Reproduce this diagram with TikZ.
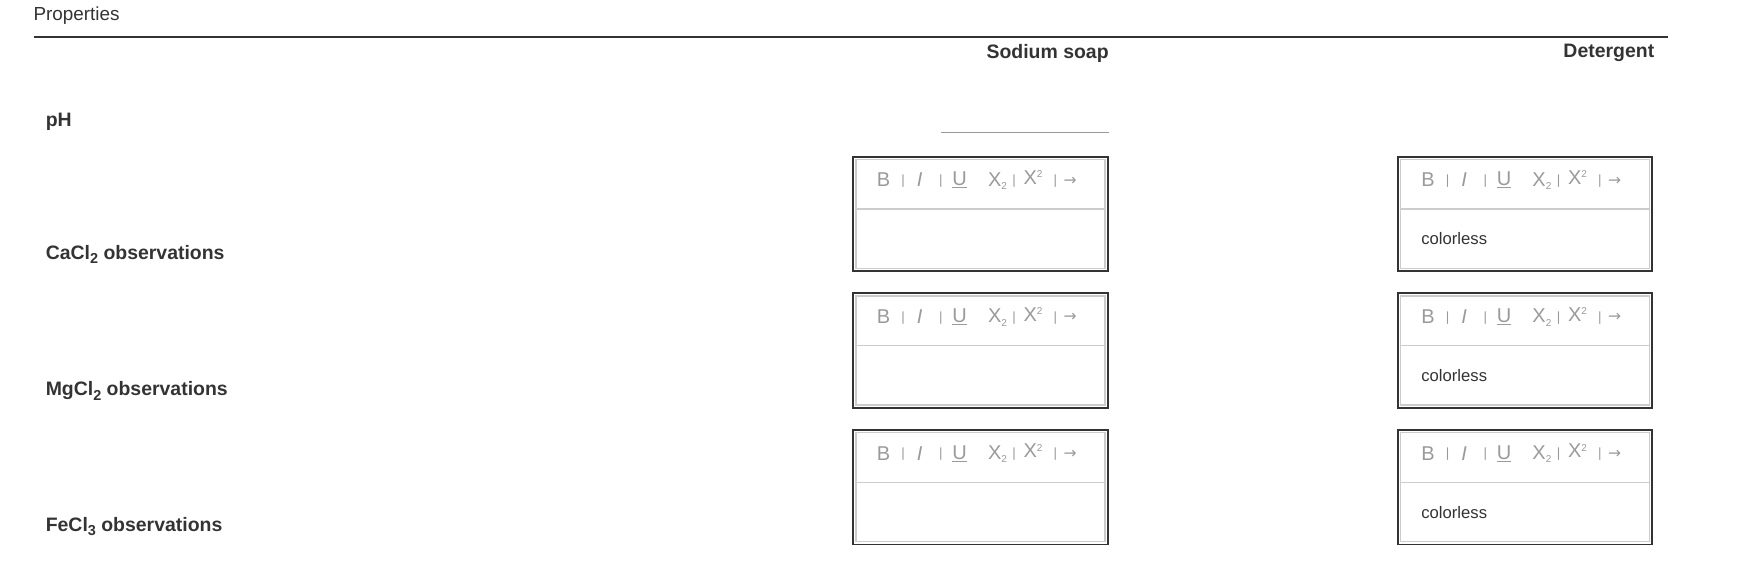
\documentclass[tikz,border=0pt]{standalone}
\usepackage{fontspec}
\setmainfont{Liberation Sans}
\newfontfamily\djvfont{DejaVu Sans}
\definecolor{dk}{HTML}{333333}
\definecolor{tb}{HTML}{9A9A9A}
\definecolor{lg}{HTML}{CCCCCC}
\begin{document}
\begin{tikzpicture}[x=1pt,y=-1pt,
  lbl/.style={font=\fontsize{17.5}{20}\selectfont\bfseries,text=dk,inner sep=0pt},
  tbt/.style={font=\fontsize{18}{20}\selectfont,text=tb,inner sep=0pt,anchor=west}]
\useasboundingbox (0,0) rectangle (1566,522);
\node[font=\fontsize{17}{20}\selectfont,text=dk,anchor=west,inner sep=0pt] (prop) at (30,14) {Properties};
\draw[dk,line width=1.6pt] (31,33) coordinate (l1) -- (1501,33) coordinate (l2);
\node[lbl,anchor=east] (ss) at (998,48) {Sodium soap};
\node[lbl,anchor=east] (dt) at (1489,48) {Detergent};
\node[lbl,anchor=west] (ph) at (41,110) {pH};
\draw[tb,line width=1pt] (847,119) coordinate (p1) -- (998,119) coordinate (p2);
\node[lbl,anchor=west] (r1) at (41,229) {CaCl\raisebox{-4pt}{\fontsize{13}{14}\selectfont 2} observations};
\node[lbl,anchor=west] (r2) at (41,352) {MgCl\raisebox{-4pt}{\fontsize{13}{14}\selectfont 2} observations};
\node[lbl,anchor=west] (r3) at (41,474) {FeCl\raisebox{-4pt}{\fontsize{13}{14}\selectfont 3} observations};
\foreach \x/\c in {768/a,1258/b}{
 \foreach \y/\r in {141/1,264/2,387/3}{
  \draw[dk,line width=1.6pt] (\x,\y) rectangle (\x+229,\y+103);
  \draw[lg,line width=1.2pt] (\x+2.5,\y+2.5) rectangle (\x+226.5,\y+100.5);
  \draw[lg,line width=1.2pt] (\x+2.5,\y+47) -- (\x+226.5,\y+47);
  \node[tbt] (B\c\r) at (\x+21,\y+21) {B};
  \node[tbt,font=\fontsize{12}{14}\selectfont] at (\x+43,\y+22) {|};
  \node[tbt,font=\fontsize{18}{20}\selectfont\itshape] at (\x+57,\y+21) {I};
  \node[tbt,font=\fontsize{12}{14}\selectfont] at (\x+77,\y+22) {|};
  \node[tbt] at (\x+89,\y+21) {\underline{U}};
  \node[tbt] at (\x+121,\y+22) {X\raisebox{-3pt}{\fontsize{9}{10}\selectfont 2}};
  \node[tbt,font=\fontsize{12}{14}\selectfont] at (\x+143,\y+22) {|};
  \node[tbt] at (\x+153,\y+19) {X\raisebox{6pt}{\fontsize{9}{10}\selectfont 2}};
  \node[tbt,font=\fontsize{12}{14}\selectfont] at (\x+180,\y+22) {|};
  \node[tbt,font=\djvfont\fontsize{14}{16}\selectfont] at (\x+189,\y+22) {→};
 }}
\foreach \y/\r in {215/1,338/2,461/3}
  \node[font=\fontsize{15}{18}\selectfont,text=dk,anchor=west,inner sep=0pt] (c\r) at (1279,\y) {colorless};
\end{tikzpicture}
\end{document}
